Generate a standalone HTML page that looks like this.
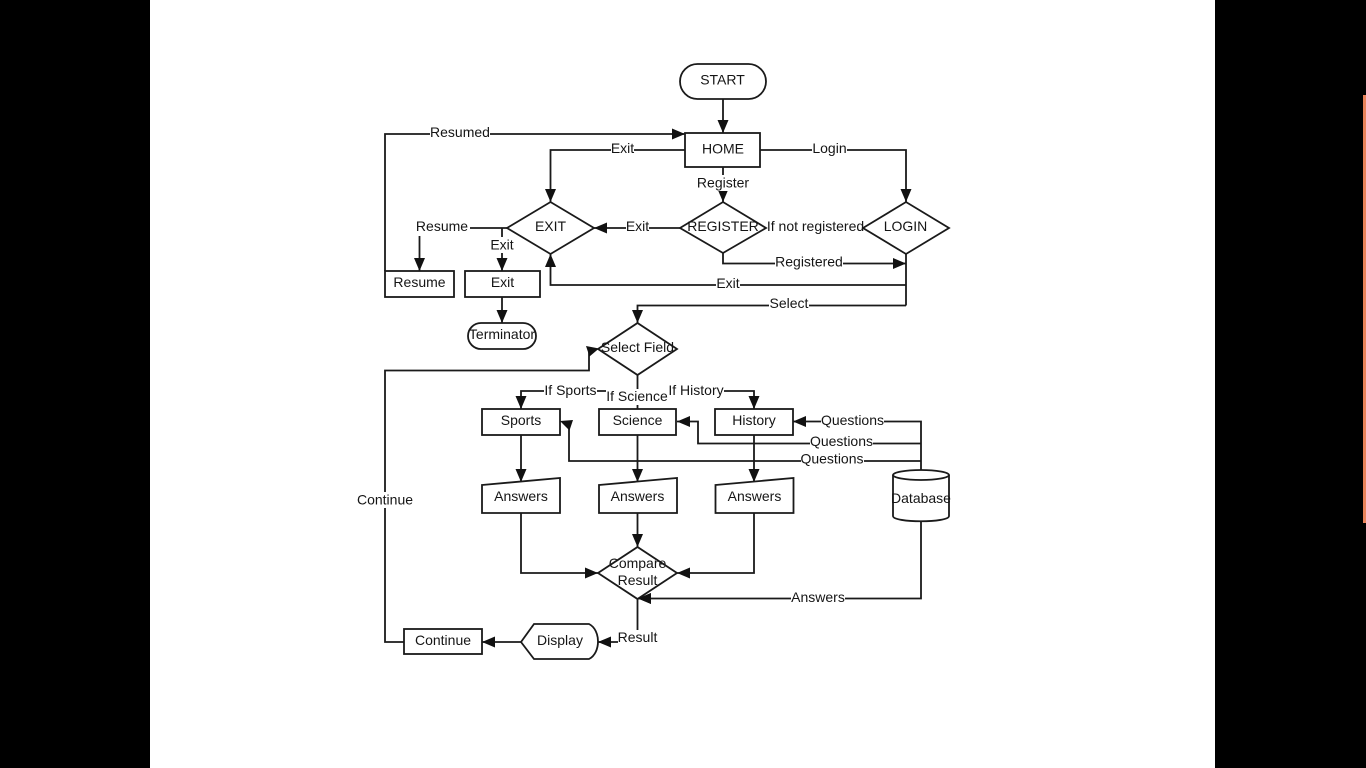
<!DOCTYPE html>
<html><head><meta charset="utf-8"><style>
html,body{margin:0;padding:0;background:#000;width:1366px;height:768px;overflow:hidden}
svg{display:block;position:absolute;left:0;top:0}
text{font-family:"Liberation Sans",sans-serif;font-size:14px;fill:#151515;text-anchor:middle}
.s{fill:#fff;stroke:#1a1a1a;stroke-width:1.8}
.c{fill:none;stroke:#1a1a1a;stroke-width:1.8;marker-end:url(#a)}
.n{fill:none;stroke:#1a1a1a;stroke-width:1.8}
.b{fill:#fff;stroke:none}
.d{filter:blur(0.35px)}
</style></head><body>
<svg width="1366" height="768" viewBox="0 0 1366 768">
<defs><marker id="a" markerUnits="userSpaceOnUse" markerWidth="14" markerHeight="12" refX="13" refY="5.5" orient="auto"><path d="M0 0L13 5.500L0 11Z" fill="#111"/></marker></defs>
<rect x="150" y="0" width="1065" height="768" fill="#fff"/>
<rect x="1363" y="95" width="3" height="428" fill="#e8835a"/>
<g class="d">

<!-- connectors -->
<path class="c" d="M723 99V133"/>
<path class="n" d="M723 167V190"/><path class="c" d="M723 190V202"/>
<path class="c" d="M685 150H550.500V202"/>
<path class="c" d="M760 150H906V202"/>
<path class="c" d="M385 271V134H685"/>
<path class="c" d="M680 228H594"/>
<path class="c" d="M723 253V263.500H906"/>
<path class="n" d="M906 254V305.500"/>
<path class="c" d="M906 285H550.500V254"/>
<path class="c" d="M906 305.500H637.500V323"/>
<path class="n" d="M507 228H470"/>
<path class="c" d="M419.500 236V271"/>
<path class="c" d="M502 228V271"/>
<path class="c" d="M502 297V323"/>
<path class="n" d="M637.500 375V409"/>
<path class="c" d="M637.500 391H521V409"/>
<path class="c" d="M637.500 391H754V409"/>
<path class="n" d="M404 642H385V370.500H589V349"/>
<path class="c" d="M521 435V482"/>
<path class="c" d="M637.500 435V482"/>
<path class="c" d="M754 435V482"/>
<path class="c" d="M637.500 513V547"/>
<path class="c" d="M521 513V573H598"/>
<path class="c" d="M754 513V573H677"/>
<path class="c" d="M921 470V421.500H793"/>
<path class="c" d="M921 443.500H698V421.500H677"/>
<path class="n" d="M921 461H569V425"/>
<path class="c" d="M921 521V598.500H638"/>
<path class="c" d="M637.500 599V642H598"/>
<path class="c" d="M521 642H482"/>

<!-- shapes -->
<rect class="s" x="680" y="64" width="86" height="35" rx="17.500"/>
<rect class="s" x="685" y="133" width="75" height="34"/>
<polygon class="s" points="680,228 723,202 766,228 723,253"/>
<polygon class="s" points="863,228 906,202 949,228 906,254"/>
<polygon class="s" points="507,228 550.500,202 594,228 550.500,254"/>
<rect class="s" x="385" y="271" width="69" height="26"/>
<rect class="s" x="465" y="271" width="75" height="26"/>
<rect class="s" x="468" y="323" width="68" height="26" rx="13"/>
<polygon class="s" points="598,349 637.500,323 677,349 637.500,375"/>
<rect class="s" x="482" y="409" width="78" height="26"/>
<rect class="s" x="599" y="409" width="77" height="26"/>
<rect class="s" x="715" y="409" width="78" height="26"/>
<polygon class="s" points="482,485 560,478 560,513 482,513"/>
<polygon class="s" points="599,485 677,478 677,513 599,513"/>
<polygon class="s" points="715.500,485 793.500,478 793.500,513 715.500,513"/>
<polygon class="s" points="598,573 637.500,547 677,573 637.500,599"/>
<path class="s" d="M521 642L534 624H589C601 630 601 653 589 659H534Z"/>
<rect class="s" x="404" y="629" width="78" height="25"/>
<path class="s" d="M893 475V516C893 523 949 523 949 516V475"/>
<ellipse class="s" cx="921" cy="475" rx="28" ry="5"/>
<polygon points="598,642 611,637 611,647" fill="#111"/>
<polygon points="638,598.500 651,593 651,604" fill="#111"/>
<polygon points="560,421 573,420 569.500,430.500" fill="#111"/>
<polygon points="599,348.500 586,346 589.500,356.500" fill="#111"/>

<!-- label backgrounds -->
<rect class="b" x="430" y="125" width="60" height="16"/>
<rect class="b" x="611" y="141" width="23" height="16"/>
<rect class="b" x="812" y="141" width="35" height="16"/>
<rect class="b" x="697" y="175" width="52" height="16"/>
<rect class="b" x="626" y="219" width="23" height="16"/>
<rect class="b" x="775" y="254" width="68" height="16"/>
<rect class="b" x="716" y="276" width="24" height="16"/>
<rect class="b" x="769" y="296" width="40" height="16"/>
<rect class="b" x="490" y="237" width="24" height="16"/>
<rect class="b" x="416" y="219" width="52" height="16"/>
<rect class="b" x="544" y="382" width="53" height="16"/>
<rect class="b" x="606" y="389" width="62" height="16"/>
<rect class="b" x="668" y="382" width="56" height="16"/>
<rect class="b" x="821" y="412" width="63" height="16"/>
<rect class="b" x="810" y="434" width="63" height="16"/>
<rect class="b" x="801" y="451" width="63" height="16"/>
<rect class="b" x="357" y="492" width="56" height="16"/>
<rect class="b" x="791" y="589" width="54" height="16"/>
<rect class="b" x="618" y="630" width="40" height="16"/>

<!-- labels -->
<text x="722.500" y="84.500">START</text>
<text x="723" y="153.500">HOME</text>
<text x="460" y="137">Resumed</text>
<text x="622.500" y="153">Exit</text>
<text x="829.500" y="153">Login</text>
<text x="723" y="187.500">Register</text>
<text x="723" y="231">REGISTER</text>
<text x="815.500" y="231">If not registered</text>
<text x="905.500" y="231">LOGIN</text>
<text x="550.500" y="231">EXIT</text>
<text x="637.500" y="231">Exit</text>
<text x="442" y="231">Resume</text>
<text x="502" y="249.500">Exit</text>
<text x="809" y="266.500">Registered</text>
<text x="728" y="288">Exit</text>
<text x="789" y="308">Select</text>
<text x="419.500" y="287">Resume</text>
<text x="502.500" y="287">Exit</text>
<text x="502" y="339">Terminator</text>
<text x="637.500" y="352">Select Field</text>
<text x="570.500" y="395">If Sports</text>
<text x="637" y="401">If Science</text>
<text x="696" y="395">If History</text>
<text x="521" y="425">Sports</text>
<text x="637.500" y="425">Science</text>
<text x="754" y="425">History</text>
<text x="852.500" y="425">Questions</text>
<text x="841.500" y="446">Questions</text>
<text x="832" y="463.500">Questions</text>
<text x="521" y="501">Answers</text>
<text x="637.500" y="501">Answers</text>
<text x="754.500" y="501">Answers</text>
<text x="921" y="503">Database</text>
<text x="385" y="504.500">Continue</text>
<text x="637.500" y="568">Compare</text>
<text x="637.500" y="585">Result</text>
<text x="818" y="602">Answers</text>
<text x="637.500" y="642">Result</text>
<text x="560" y="645">Display</text>
<text x="443" y="645">Continue</text>
</g>
</svg>
</body></html>
